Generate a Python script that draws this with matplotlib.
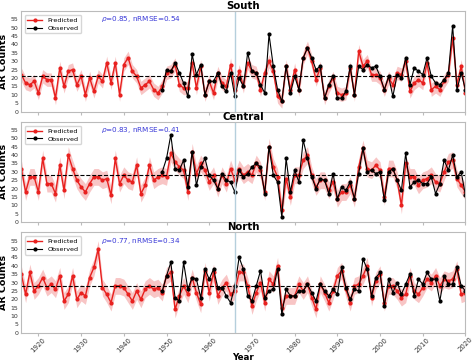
import numpy as np
import matplotlib
matplotlib.use("Agg")
import matplotlib.pyplot as plt

years = np.arange(1916, 2021)
obs_years = np.arange(1949, 2021)

south_pred = [22, 17, 16, 18, 11, 21, 19, 19, 8, 26, 15, 24, 25, 16, 21, 10, 20, 12, 21, 18,
              29, 17, 29, 10, 28, 32, 24, 21, 14, 16, 18, 13, 11, 15, 23, 24, 28, 16, 14, 14,
              29, 14, 27, 10, 18, 11, 23, 17, 15, 28, 13, 24, 15, 29, 24, 23, 13, 23, 30, 24,
              9, 6, 27, 13, 25, 13, 32, 38, 30, 19, 26, 8, 15, 20, 11, 10, 11, 26, 10, 36,
              27, 30, 22, 22, 20, 13, 20, 16, 23, 22, 30, 12, 17, 19, 17, 29, 13, 15, 13, 18,
              22, 44, 16, 27, 11]
south_obs = [13, 25, 24, 29, 23, 17, 9, 34, 22, 28, 10, 18, 18, 23, 15, 12, 23, 9, 20, 15,
             35, 24, 23, 16, 11, 46, 27, 13, 6, 27, 11, 21, 13, 32, 38, 32, 25, 27, 8, 16,
             21, 8, 8, 12, 27, 10, 27, 25, 28, 26, 27, 21, 13, 21, 9, 22, 20, 32, 16, 26,
             24, 22, 32, 21, 17, 16, 19, 23, 51, 13, 23, 13]

central_pred = [32, 18, 27, 27, 18, 38, 23, 23, 17, 34, 19, 40, 32, 25, 21, 18, 23, 27, 27, 25,
                26, 16, 38, 23, 28, 25, 24, 34, 17, 22, 34, 25, 27, 28, 27, 41, 36, 33, 31, 18,
                42, 29, 35, 31, 24, 28, 20, 28, 23, 32, 25, 32, 28, 30, 28, 35, 31, 18, 45, 33,
                27, 7, 26, 15, 28, 28, 37, 40, 28, 21, 25, 25, 19, 24, 14, 18, 18, 22, 14, 33,
                44, 32, 31, 34, 31, 15, 32, 32, 25, 10, 35, 27, 27, 22, 25, 26, 28, 24, 23, 30,
                36, 37, 26, 22, 18]
central_obs = [30, 38, 52, 32, 31, 37, 21, 42, 22, 33, 38, 28, 25, 20, 29, 25, 24, 18, 31, 27,
               29, 33, 35, 33, 17, 45, 28, 24, 3, 38, 18, 31, 24, 49, 38, 27, 20, 26, 25, 17,
               29, 14, 21, 19, 24, 14, 29, 44, 30, 31, 29, 30, 13, 30, 32, 25, 19, 41, 21, 24,
               25, 23, 23, 27, 17, 23, 37, 31, 40, 27, 30, 16]

north_pred = [35, 23, 36, 25, 28, 33, 27, 29, 26, 34, 19, 23, 34, 20, 24, 22, 33, 39, 50, 27,
              23, 18, 28, 28, 27, 23, 19, 25, 20, 26, 28, 26, 27, 24, 34, 36, 14, 22, 28, 23,
              33, 24, 17, 37, 24, 36, 22, 27, 30, 23, 25, 36, 36, 28, 16, 24, 30, 18, 32, 29,
              40, 15, 22, 22, 22, 29, 25, 29, 21, 14, 29, 24, 18, 25, 34, 37, 26, 18, 28, 29,
              34, 40, 21, 31, 35, 18, 28, 28, 25, 21, 23, 34, 25, 23, 27, 32, 30, 34, 28, 32,
              31, 32, 38, 23, 24]
north_obs = [25, 34, 42, 21, 19, 42, 26, 33, 32, 21, 38, 32, 38, 27, 27, 22, 18, 28, 45, 38,
             22, 19, 28, 37, 21, 25, 26, 38, 11, 26, 22, 22, 25, 25, 29, 24, 19, 29, 25, 22,
             26, 23, 39, 27, 20, 26, 25, 44, 38, 22, 33, 36, 16, 32, 24, 30, 23, 29, 35, 22,
             32, 29, 36, 32, 32, 19, 34, 29, 29, 39, 28, 25]

regions = ["South", "Central", "North"]
preds = [south_pred, central_pred, north_pred]
observed = [south_obs, central_obs, north_obs]
means = [21, 28, 28]
spreads = [4, 5, 5]
stats = ["$\\rho$=0.85, nRMSE=0.54", "$\\rho$=0.83, nRMSE=0.41", "$\\rho$=0.77, nRMSE=0.34"]
split_year = 1966

fig, axes = plt.subplots(3, 1, figsize=(4.74, 3.63), dpi=100, sharex=True)
fig.subplots_adjust(left=0.045, right=0.982, top=0.97, bottom=0.083, hspace=0.1)

for ax, name, pred, obs, m, s, txt in zip(axes, regions, preds, observed, means, spreads, stats):
    pred = np.array(pred)
    ax.fill_between(years, pred - s, pred + s, color="#f08080", alpha=0.45, lw=0)
    ax.plot(years, pred, color="#e8201e", lw=1.0, marker="o", ms=2.0, label="Predicted")
    ax.plot(obs_years, obs, color="black", lw=0.8, marker="o", ms=2.0, label="Observed")
    ax.axhline(m, color="black", ls="--", lw=0.8)
    ax.axvline(split_year, color="#b5cfdc", lw=1)
    ax.set_xlim(1916, 2020)
    ax.set_ylim(0, 60)
    ax.set_yticks(np.arange(0, 60, 5))
    ax.tick_params(axis="y", labelsize=4.5, length=0, pad=2, labelcolor="#333333")
    ax.tick_params(axis="x", labelsize=5.0, length=2, color="#bbbbbb", pad=0.5, labelcolor="#333333")
    for sp in ax.spines.values():
        sp.set_color("#bbbbbb")
    ax.set_title(name, fontsize=7.3, fontweight="bold", pad=1)
    ax.text(0.18, 0.965, txt, transform=ax.transAxes, color="#3a3ad8", fontsize=5.2,
            va="top")
    ax.legend(loc="upper left", fontsize=4.6, frameon=True, handlelength=2.4,
              borderpad=0.4, labelspacing=0.35, edgecolor="#cccccc",
              bbox_to_anchor=(0.0, 0.99))
    ax.set_ylabel("AR Counts", fontsize=6.8, fontweight="bold", labelpad=2)

axes[-1].set_xticks(np.arange(1920, 2021, 10))
plt.setp(axes[-1].get_xticklabels(), rotation=45, ha="center")
axes[-1].set_xlabel("Year", fontsize=6.3, fontweight="bold", labelpad=0)

plt.savefig("out.png", dpi=100)
